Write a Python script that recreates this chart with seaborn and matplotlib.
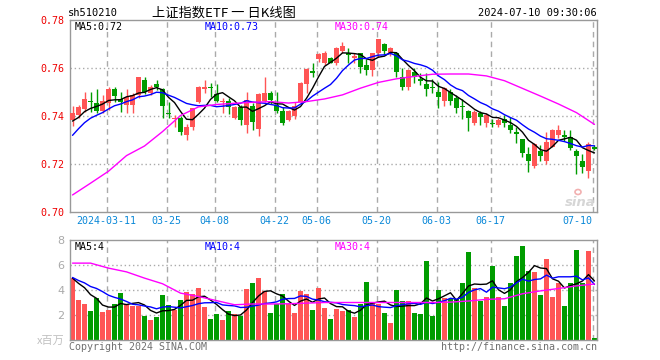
import numpy as np
import pandas as pd
import matplotlib
matplotlib.use("Agg")
import matplotlib.pyplot as plt
from matplotlib.patches import Ellipse
import seaborn as sns

# ---- daily candles, 2024-03-01 .. 2024-07-10 ----
open_ = [0.7383, 0.7404, 0.7429, 0.7464, 0.7456, 0.7422, 0.7456, 0.7511, 0.7469, 0.7446,
         0.7446, 0.7488, 0.7550, 0.7494, 0.7533, 0.7511, 0.7414, 0.7386, 0.7390, 0.7321,
         0.7356, 0.7460, 0.7514, 0.7519, 0.7492, 0.7457, 0.7464, 0.7390, 0.7436, 0.7363,
         0.7442, 0.7344, 0.7464, 0.7494, 0.7446, 0.7422, 0.7383, 0.7400, 0.7460, 0.7533,
         0.7586, 0.7636, 0.7619, 0.7640, 0.7622, 0.7672, 0.7661, 0.7640, 0.7661, 0.7613,
         0.7592, 0.7664, 0.7700, 0.7661, 0.7664, 0.7561, 0.7519, 0.7585, 0.7553, 0.7533,
         0.7522, 0.7501, 0.7464, 0.7501, 0.7474, 0.7442, 0.7422, 0.7372, 0.7411, 0.7372,
         0.7372, 0.7363, 0.7386, 0.7363, 0.7335, 0.7303, 0.7242, 0.7192, 0.7256, 0.7214,
         0.7272, 0.7321, 0.7319, 0.7311, 0.7256, 0.7214, 0.7172, 0.7269]
high = [0.7442, 0.7446, 0.7501, 0.7501, 0.7511, 0.7488, 0.7519, 0.7522, 0.7501, 0.7511,
        0.7497, 0.7564, 0.7561, 0.7529, 0.7550, 0.7515, 0.7460, 0.7404, 0.7400, 0.7365,
        0.7435, 0.7525, 0.7550, 0.7536, 0.7533, 0.7474, 0.7474, 0.7442, 0.7446, 0.7501,
        0.7456, 0.7494, 0.7564, 0.7504, 0.7501, 0.7439, 0.7425, 0.7460, 0.7543, 0.7599,
        0.7619, 0.7661, 0.7672, 0.7644, 0.7689, 0.7710, 0.7682, 0.7661, 0.7664, 0.7636,
        0.7664, 0.7719, 0.7703, 0.7689, 0.7668, 0.7599, 0.7594, 0.7599, 0.7581, 0.7578,
        0.7553, 0.7543, 0.7522, 0.7511, 0.7488, 0.7469, 0.7425, 0.7425, 0.7422, 0.7411,
        0.7386, 0.7390, 0.7404, 0.7394, 0.7356, 0.7306, 0.7272, 0.7286, 0.7279, 0.7335,
        0.7344, 0.7363, 0.7342, 0.7342, 0.7261, 0.7242, 0.7293, 0.7279]
low = [0.7360, 0.7390, 0.7418, 0.7418, 0.7411, 0.7411, 0.7425, 0.7460, 0.7418, 0.7411,
       0.7411, 0.7474, 0.7492, 0.7488, 0.7508, 0.7390, 0.7390, 0.7356, 0.7321, 0.7300,
       0.7342, 0.7453, 0.7494, 0.7481, 0.7460, 0.7411, 0.7408, 0.7386, 0.7363, 0.7328,
       0.7342, 0.7317, 0.7460, 0.7450, 0.7414, 0.7363, 0.7381, 0.7386, 0.7456, 0.7494,
       0.7564, 0.7626, 0.7611, 0.7619, 0.7613, 0.7661, 0.7619, 0.7619, 0.7581, 0.7571,
       0.7567, 0.7647, 0.7654, 0.7650, 0.7561, 0.7508, 0.7508, 0.7539, 0.7529, 0.7483,
       0.7494, 0.7432, 0.7442, 0.7446, 0.7411, 0.7386, 0.7339, 0.7363, 0.7363, 0.7353,
       0.7356, 0.7353, 0.7356, 0.7328, 0.7289, 0.7231, 0.7168, 0.7182, 0.7214, 0.7200,
       0.7269, 0.7307, 0.7297, 0.7258, 0.7158, 0.7164, 0.7140, 0.7258]
close = [0.7414, 0.7436, 0.7471, 0.7457, 0.7421, 0.7463, 0.7511, 0.7485, 0.7460, 0.7481,
         0.7488, 0.7564, 0.7501, 0.7519, 0.7519, 0.7442, 0.7408, 0.7392, 0.7335, 0.7356,
         0.7432, 0.7522, 0.7519, 0.7517, 0.7464, 0.7464, 0.7436, 0.7436, 0.7383, 0.7467,
         0.7375, 0.7492, 0.7497, 0.7467, 0.7422, 0.7372, 0.7421, 0.7442, 0.7539, 0.7594,
         0.7581, 0.7658, 0.7661, 0.7622, 0.7682, 0.7692, 0.7654, 0.7650, 0.7603, 0.7592,
         0.7661, 0.7719, 0.7672, 0.7682, 0.7585, 0.7522, 0.7592, 0.7561, 0.7547, 0.7511,
         0.7518, 0.7481, 0.7515, 0.7464, 0.7432, 0.7436, 0.7390, 0.7418, 0.7394, 0.7404,
         0.7365, 0.7383, 0.7369, 0.7342, 0.7325, 0.7244, 0.7214, 0.7283, 0.7233, 0.7293,
         0.7342, 0.7342, 0.7314, 0.7265, 0.7233, 0.7186, 0.7283, 0.7264]
# volume, x million
volume = [4.93, 3.20, 2.88, 2.32, 3.33, 2.24, 2.40, 2.88, 3.76, 2.88,
          2.72, 2.72, 1.92, 1.60, 1.84, 3.60, 2.80, 2.40, 3.20, 3.84,
          3.68, 4.16, 2.64, 1.68, 2.08, 1.60, 2.32, 2.08, 1.92, 4.08,
          4.56, 4.96, 3.92, 2.16, 2.88, 3.68, 2.90, 2.20, 3.90, 3.70,
          2.40, 4.20, 2.60, 1.68, 2.48, 2.32, 2.40, 1.84, 2.88, 4.64,
          2.96, 2.90, 2.16, 1.36, 4.00, 3.12, 3.12, 2.16, 2.08, 6.32,
          1.92, 4.00, 3.36, 3.30, 3.30, 4.60, 7.04, 4.16, 3.12, 3.44,
          5.92, 3.44, 2.72, 4.56, 6.72, 7.52, 5.52, 5.44, 3.60, 6.48,
          3.44, 4.56, 2.72, 4.56, 7.20, 4.56, 7.12, 0.16]

# sessions before the window (only feed the first MA5/MA10 values)
pre_close = [0.716, 0.722, 0.727, 0.730, 0.735, 0.736, 0.735, 0.739, 0.738]
pre_volume = [5.60, 4.80, 5.20, 4.90, 4.75, 5.30, 4.60, 5.10, 4.82]

# MA30 lines every 3 sessions
ma30_idx = [0, 3, 6, 9, 12, 15, 18, 21, 24, 27, 30, 33, 36, 39, 42,
            45, 48, 51, 54, 57, 60, 63, 66, 69, 72, 75, 78, 81, 84, 87]
ma30_price = [0.7071, 0.7120, 0.7170, 0.7235, 0.7275, 0.7335, 0.7402, 0.7438, 0.7448, 0.7453,
              0.7457, 0.7460, 0.7454, 0.7460, 0.7471, 0.7488, 0.7516, 0.7540, 0.7555, 0.7565,
              0.7574, 0.7575, 0.7575, 0.7567, 0.7547, 0.7515, 0.7483, 0.7450, 0.7414, 0.7365]
ma30_vol = [6.15, 6.15, 5.75, 5.45, 4.95, 4.50, 3.75, 3.48, 3.15, 2.82,
            2.88, 2.88, 2.90, 2.95, 3.00, 3.00, 3.00, 3.00, 3.00, 3.00,
            3.00, 3.03, 3.12, 3.25, 3.30, 3.70, 3.93, 4.12, 4.33, 4.48]

tick_idx = [6, 16, 24, 34, 41, 51, 61, 70, 87]
tick_labels = ["2024-03-11", "03-25", "04-08", "04-22", "05-06",
               "05-20", "06-03", "06-17", "07-10"]

RED = "#ff5555"
GREEN = "#009c00"
GRID = "#aaaaaa"
MONO = "DejaVu Sans Mono"

sns.set_style("white")
plt.rcParams["font.family"] = ["DejaVu Sans", "Noto Sans CJK SC"]

W, H = 660, 360
fig = plt.figure(figsize=(6.6, 3.6), dpi=100)
ax = fig.add_axes([70 / W, 1 - 212 / H, 527 / W, 192 / H])
axv = fig.add_axes([70 / W, 1 - 340 / H, 527 / W, 100 / H])

x = np.arange(len(close))
o, h, l, c = map(np.array, (open_, high, low, close))
colors = np.where(c >= o, RED, GREEN)

full_c = pd.Series(pre_close + close)
ma5 = full_c.rolling(5).mean().to_numpy()[len(pre_close):]
ma10 = full_c.rolling(10).mean().to_numpy()[len(pre_close):]
full_v = pd.Series(pre_volume + volume)
vma5 = full_v.rolling(5).mean().to_numpy()[len(pre_volume):]
vma10 = full_v.rolling(10).mean().to_numpy()[len(pre_volume):]

tick_pos = np.array(tick_idx) - 0.3
for a in (ax, axv):
    a.set_xlim(-0.42, 87.42)
    for p in tick_pos:
        a.axvline(p, color=GRID, lw=1, ls=(0, (4, 3)), zorder=0)
    for s in a.spines.values():
        s.set_color("#999999")
        s.set_linewidth(1)
    a.tick_params(length=0)

# price panel
ax.set_ylim(0.70, 0.78)
for lv in (0.72, 0.74, 0.76):
    ax.axhline(lv, color=GRID, lw=1, ls=(0, (1, 2)), zorder=0)
ax.vlines(x, l, h, colors=colors, lw=1, zorder=2)
ax.bar(x, np.maximum(np.abs(c - o), 0.0004), bottom=np.minimum(o, c),
       width=0.75, color=colors, linewidth=0, zorder=3)
sns.lineplot(x=x, y=ma5, ax=ax, color="black", lw=1, zorder=4)
sns.lineplot(x=x, y=ma10, ax=ax, color="#0000ff", lw=1, zorder=4)
sns.lineplot(x=ma30_idx, y=ma30_price, ax=ax, color="#ff00ff", lw=1, zorder=4)
ax.set_yticks([0.70, 0.72, 0.74, 0.76, 0.78])
ax.set_yticklabels(["0.70", "0.72", "0.74", "0.76", "0.78"],
                   color="#ee0000", family=MONO, fontsize=7.2)
ax.set_xticks(tick_pos)
ax.set_xticklabels(tick_labels, color="#0a88d8", family=MONO, fontsize=7.2)
ax.get_xticklabels()[-1].set_ha("right")
ax.tick_params(axis="y", pad=4)
ax.tick_params(axis="x", pad=3)
ax.set_xlabel("")
ax.set_ylabel("")

# volume panel
axv.set_ylim(0, 8)
for lv in (2, 4, 6):
    axv.axhline(lv, color=GRID, lw=1, ls=(0, (1, 2)), zorder=0)
axv.bar(x, volume, width=0.83, color=colors, linewidth=0, zorder=2)
sns.lineplot(x=x, y=vma5, ax=axv, color="black", lw=1, zorder=4)
sns.lineplot(x=x, y=vma10, ax=axv, color="#0000ff", lw=1, zorder=4)
sns.lineplot(x=ma30_idx, y=ma30_vol, ax=axv, color="#ff00ff", lw=1, zorder=4)
axv.set_yticks([2, 4, 6, 8])
axv.set_yticklabels(["2", "4", "6", "8"], color="#aaaaaa", fontsize=8)
axv.set_xticks([])
axv.tick_params(axis="y", pad=4)
axv.set_xlabel("")
axv.set_ylabel("")


def ftext(px, py, s, **kw):
    fig.text(px / W, 1 - py / H, s, va="center", **kw)


ftext(68, 13, "sh510210", family=MONO, fontsize=7.5, color="black")
ftext(224, 13, "上证指数ETF 一 日K线图", family=["Noto Sans CJK SC"],
      fontsize=9.5, color="black", ha="center")
ftext(597, 13, "2024-07-10 09:30:06", family=MONO, fontsize=7.5,
      color="black", ha="right")

ftext(75, 26.5, "MA5:0.72", family=MONO, fontsize=7.2, color="black")
ftext(205, 26.5, "MA10:0.73", family=MONO, fontsize=7.2, color="#0000ff")
ftext(335, 26.5, "MA30:0.74", family=MONO, fontsize=7.2, color="#ff00ff")
ftext(75, 246.5, "MA5:4", family=MONO, fontsize=7.2, color="black")
ftext(205, 246.5, "MA10:4", family=MONO, fontsize=7.2, color="#0000ff")
ftext(335, 246.5, "MA30:4", family=MONO, fontsize=7.2, color="#ff00ff")

ftext(65, 341, "x百万", family=["Noto Sans CJK SC"], fontsize=8,
      color="#c0c0c0", ha="right")
ftext(69, 346.5, "Copyright 2024 SINA.COM", family=MONO, fontsize=7.2,
      color="#707070")
ftext(597, 346.5, "http://finance.sina.com.cn", family=MONO, fontsize=7.2,
      color="#707070", ha="right")

# sina watermark: light "sina" text with the little red eye above it
ftext(596, 202, "sina", fontsize=9.5, color="#d6d6d6", ha="right",
      style="italic", weight="bold")
fig.add_artist(Ellipse((578 / W, 1 - 192 / H), 6 / W, 5 / H,
                       transform=fig.transFigure, fill=False,
                       edgecolor="#f2b0b0", lw=1.2))

fig.savefig("out.png", dpi=100, facecolor="white")
